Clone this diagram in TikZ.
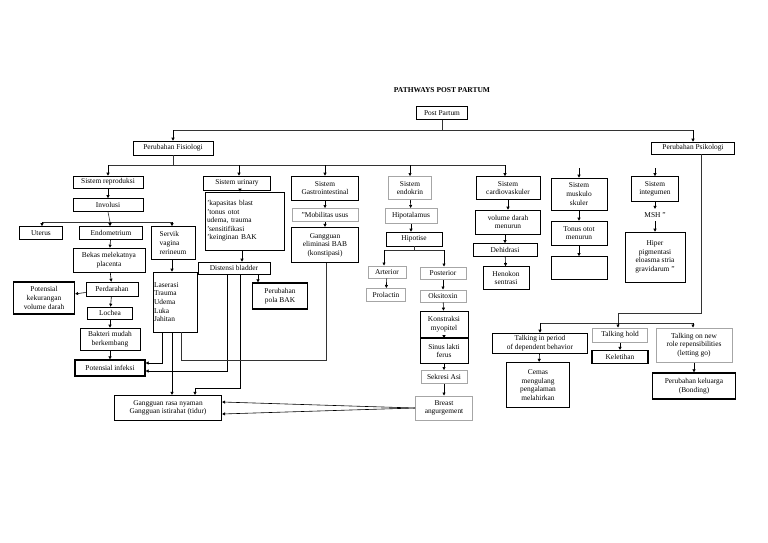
\documentclass[tikz,border=0pt]{standalone}
\usepackage{fontspec}
\setmainfont{Liberation Serif}
\usetikzlibrary{arrows.meta}
\begin{document}
\begin{tikzpicture}[x=1pt,y=-1pt,line width=0.6pt,
  bx/.style={draw,inner sep=0pt,align=center,font=\fontsize{7.4}{8.6}\selectfont},
  gb/.style={bx,draw=gray!70,line width=1pt},
  tb/.style={bx,line width=1.2pt},
  ar/.style={-{Triangle[length=3pt,width=3pt]}},
  ln/.style={draw=black!80}]
\useasboundingbox (0,0) rectangle (768,543);
\node[font=\fontsize{7.5}{8}\selectfont\bfseries] (title) at (442,90) {PATHWAYS POST PARTUM};
\node[bx,minimum width=51,minimum height=13] (pp) at (442,113) {Post Partum};
\node[bx,minimum width=80,minimum height=14] (fis) at (173,148) {Perubahan Fisiologi};
\node[bx,minimum width=83,minimum height=12] (psi) at (693,148) {Perubahan Psikologi};
% level systems
\node[bx,minimum width=70,minimum height=12] (rep) at (108,182) {Sistem reproduksi};
\node[bx,minimum width=67,minimum height=14] (uri) at (237,183) {Sistem urinary};
\node[bx,minimum width=67,minimum height=24] (gas) at (325,188) {Sistem\\Gastrointestinal};
\node[gb,minimum width=43,minimum height=23] (end) at (410,188) {Sistem\\endokrin};
\node[bx,minimum width=64,minimum height=23] (car) at (508,188) {Sistem\\cardiovaskuler};
\node[bx,minimum width=56,minimum height=32] (mus) at (579,194) {Sistem\\muskulo\\skuler};
\node[bx,minimum width=47,minimum height=25] (int) at (655,189) {Sistem\\integumen};
% reproduksi
\node[bx,minimum width=70,minimum height=13] (inv) at (108,205) {Involusi};
\node[bx,minimum width=43,minimum height=13] (ute) at (41,233) {Uterus};
\node[bx,minimum width=63,minimum height=13] (endo) at (111,233) {Endometrium};
\node[bx,minimum width=44,minimum height=33,align=left] (ser) at (173,243) {Servik\\vagina\\rerineum};
\node[bx,minimum width=72,minimum height=24] (bek) at (109,260) {Bekas melekatnya\\placenta};
\node[bx,minimum width=52,minimum height=14] (per) at (112,289) {Perdarahan};
\node[tb,minimum width=61,minimum height=32] (pkv) at (44,298) {Potensial\\kekurangan\\volume darah};
\node[bx,minimum width=45,minimum height=12] (loc) at (110,313) {Lochea};
\node[bx,minimum width=60,minimum height=22] (bak) at (110,339) {Bakteri mudah\\berkembang};
\node[tb,minimum width=70,minimum height=16] (pin) at (110,368) {Potensial infeksi};
\node[bx,minimum width=44,minimum height=60,align=left,text width=42] (las) at (175,302) {Laserasi\\Trauma\\Udema\\Luka\\Jahitan};
\node[tb,minimum width=107,minimum height=25] (gan) at (168,408) {Gangguan rasa nyaman\\Gangguan istirahat (tidur)};
% urinary
\node[bx,minimum width=79,minimum height=58,align=left,text width=76] (ul) at (245,221) {'kapasitas blast\\'tonus otot\\udema, trauma\\'sensitifikasi\\'keinginan BAK};
\node[bx,minimum width=72,minimum height=12] (dis) at (234,268) {Distensi bladder};
\node[tb,minimum width=55,minimum height=26] (pba) at (280,296) {Perubahan\\pola BAK};
% gastro
\node[gb,minimum width=66,minimum height=13] (mob) at (325,215) {"Mobilitas usus};
\node[tb,minimum width=67,minimum height=35] (gel) at (325,245) {Gangguan\\eliminasi BAB\\(konstipasi)};
% endokrin
\node[gb,minimum width=52,minimum height=15] (hpt) at (411,216) {Hipotalamus};
\node[bx,minimum width=56,minimum height=14] (hps) at (414,239) {Hipotise};
\node[gb,minimum width=38,minimum height=12] (art) at (387,272) {Arterior};
\node[gb,minimum width=46,minimum height=12] (pos) at (443,273) {Posterior};
\node[gb,minimum width=39,minimum height=13] (pro) at (386,295) {Prolactin};
\node[gb,minimum width=46,minimum height=12] (oks) at (443,296) {Oksitoxin};
\node[bx,minimum width=48,minimum height=26] (kon) at (444,324) {Konstraksi\\myopitel};
\node[bx,minimum width=48,minimum height=25] (sin) at (444,351) {Sinus lakti\\ferus};
\node[gb,minimum width=46,minimum height=13] (sek) at (444,377) {Sekresi Asi};
\node[gb,minimum width=57,minimum height=24] (bre) at (444,408) {Breast\\angurgement};
% cardio
\node[bx,minimum width=65,minimum height=24] (vol) at (508,222) {volume darah\\menurun};
\node[bx,minimum width=64,minimum height=13] (deh) at (505,250) {Dehidrasi};
\node[bx,minimum width=46,minimum height=23] (hen) at (506,278) {Henokon\\sentrasi};
% musku
\node[bx,minimum width=56,minimum height=24] (ton) at (579,233) {Tonus otot\\menurun};
\node[bx,minimum width=56,minimum height=23] (emp) at (579,268) {};
% integumen
\node[font=\fontsize{7.4}{8.6}\selectfont] (msh) at (655,215) {MSH "};
\node[bx,minimum width=60,minimum height=50] (hip) at (655,257) {Hiper\\pigmentasi\\eloasma stria\\gravidarum "};
% psikologi
\node[bx,minimum width=95,minimum height=20] (tip) at (540,343) {Talking in period\\of dependent behavior};
\node[tb,minimum width=63,minimum height=45] (cem) at (538,385) {Cemas\\mengulang\\pengalaman\\melahirkan};
\node[gb,minimum width=55,minimum height=14] (tho) at (620,335) {Talking hold};
\node[tb,minimum width=56,minimum height=13] (kel) at (620,357) {Keletihan};
\node[gb,minimum width=76,minimum height=34] (ton2) at (694,345) {Talking on new\\role repensibilities\\(letting go)};
\node[tb,minimum width=83,minimum height=26] (pk) at (694,386) {Perubahan keluarga\\(Bonding)};
% connectors top
\draw[ln] (pp.south) -- (442,130);
\draw[ln] (173,130) -- (693,130);
\draw[ar] (173,130) -- (fis.north);
\draw[ar] (693,130) -- (psi.north);
\draw[ln] (fis.south) -- (173,165);
\draw[ln] (108,165) -- (505,165);
\draw[ar] (108,165) -- (rep.north);
\draw[ar] (239,165) -- (uri.north -| 239,0);
\draw[ar] (325,165) -- (gas.north);
\draw[ar] (410,165) -- (end.north);
\draw[ar] (505,165) -- (car.north -| 505,0);
\coordinate (m1) at (579,168); \coordinate (m2) at (655,168);
\draw[ar] (m1) -- (mus.north);
\draw[ar] (m2) -- (int.north);
% reproduksi
\draw[ar] (rep) -- (inv);
\draw[ln] (inv.south) -- (110,222);
\draw[ln] (42,222) -- (172,222);
\draw[ar] (42,222) -- (ute.north -| 42,0);
\draw[ar] (110,222) -- (endo.north -| 110,0);
\draw[ar] (172,222) -- (ser.north -| 172,0);
\draw[ar] (endo) -- (bek);
\draw[ar] (bek) -- (per);
\draw[ar] (per) -- (pkv);
\draw[ar] (per) -- (loc);
\draw[ar] (loc) -- (bak);
\draw[ar] (bak) -- (pin);
\draw[ar] (ser.south -| 172,0) -- (las.north -| 172,0);
\draw[ar] (las.south -| 162,0) |- (pin.east |- 0,363);
\draw[ar] (dis.south -| 227,0) |- (pin.east |- 0,371);
\draw[ar] (las.south -| 172,0) -- (gan.north -| 172,0);
\draw[ar] (dis.south -| 240,0) |- (195,388) -- (gan.north -| 195,0);
\draw[ln] (las.south -| 181,0) |- (326,360) -- (gel.south -| 326,0);
% urinary
\draw[ar] (uri.south -| 240,0) -- (ul.north -| 240,0);
\draw[ar] (ul.south -| 242,0) -- (dis.north -| 242,0);
\draw[ar] (dis.south -| 258,0) -- (pba.north -| 258,0);
% gastro
\draw[ar] (gas) -- (mob);
\draw[ar] (mob) -- (gel);
% endokrin
\draw[ar] (end) -- (hpt);
\draw[ar] (hpt.south) -- (hpt.south |- hps.north);
\draw[ln] (hps.south) -- (414,250);
\draw[ln] (384,250) -- (444,250);
\draw[ar] (384,250) -- (art.north -| 384,0);
\draw[ar] (444,250) -- (pos.north -| 444,0);
\draw[ar] (art) -- (pro);
\draw[ar] (pos) -- (oks);
\draw[ar] (oks) -- (kon);
\draw[ar] (kon) -- (sin);
\draw[ar] (sin) -- (sek);
\draw[ar] (sek) -- (bre);
\draw[ar] (bre.west) -- (gan.east |- 0,402);
\draw[ar] (bre.west) -- (gan.east |- 0,414);
% cardio
\draw[ar] (car) -- (vol);
\draw[ar] (vol.south -| 505,0) -- (deh);
\draw[ar] (deh) -- (hen);
% musku
\draw[ar] (mus) -- (ton);
\draw[ar] (ton) -- (emp);
% integ
\draw[ar] (int) -- (msh);
\draw[ar] (msh) -- (hip);
% psikologi
\draw[ln] (psi.south -| 701,0) -- (701,313) -- (618,313) -- (618,323);
\draw[ln] (540,323) -- (693,323);
\draw[ar] (540,323) -- (tip.north);
\draw[ar] (618,323) -- (tho.north -| 618,0);
\draw[ar] (693,323) -- (ton2.north -| 693,0);
\draw[ar] (tip) -- (cem);
\draw[ar] (tho) -- (kel);
\draw[ar] (ton2) -- (pk);
\end{tikzpicture}
\end{document}
